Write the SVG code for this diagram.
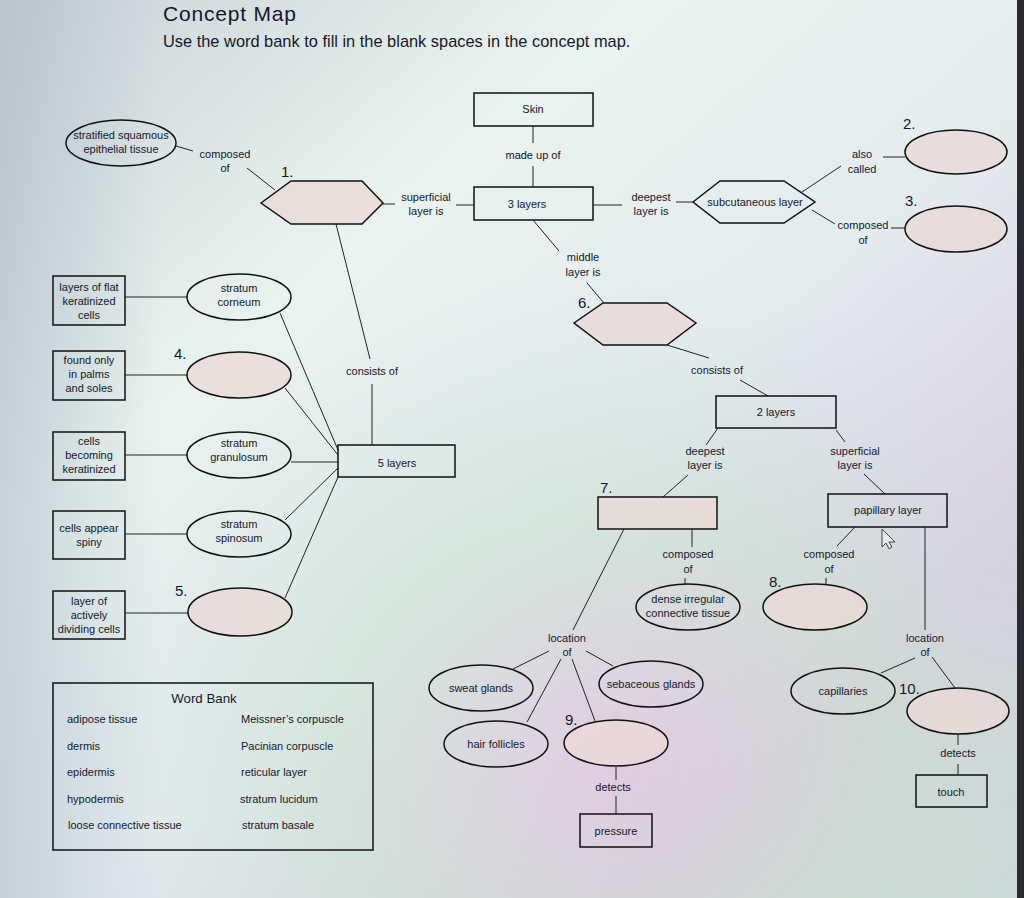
<svg xmlns="http://www.w3.org/2000/svg" width="1024" height="898" viewBox="0 0 1024 898">
<defs>
<linearGradient id="bg" x1="0" y1="0" x2="1" y2="1">
<stop offset="0" stop-color="#c9d2d8"/>
<stop offset="0.3" stop-color="#e9f3ee"/>
<stop offset="0.55" stop-color="#e4ecef"/>
<stop offset="0.8" stop-color="#d9cfe0"/>
<stop offset="1" stop-color="#c9d9d6"/>
</linearGradient>
<radialGradient id="glow" cx="0.6" cy="0.85" r="0.55">
<stop offset="0" stop-color="#e6c6e2" stop-opacity="0.7"/>
<stop offset="0.5" stop-color="#c6e2cc" stop-opacity="0.5"/>
<stop offset="1" stop-color="#d0dde6" stop-opacity="0"/>
</radialGradient>
<linearGradient id="leftshade" x1="0" y1="0" x2="1" y2="0">
<stop offset="0" stop-color="#aebdca" stop-opacity="0.6"/>
<stop offset="1" stop-color="#aebdca" stop-opacity="0"/>
</linearGradient>
</defs>
<style>
text{font-family:"Liberation Sans",Arial,sans-serif;font-size:11px;fill:#16182a;text-anchor:middle}
.num{font-size:15px;text-anchor:start}
.wb{text-anchor:start;font-size:11px}
.node{fill:none;stroke:#111;stroke-width:1.5}
.blank{fill:#ead9d6;fill-opacity:0.8;stroke:#111;stroke-width:1.5}
.conn path{fill:none;stroke:#222;stroke-width:1}
</style>
<rect width="1024" height="898" fill="url(#bg)"/>
<rect width="1024" height="898" fill="url(#glow)"/>
<rect width="160" height="898" fill="url(#leftshade)"/>
<rect x="1017" y="0" width="7" height="898" fill="#2a2a2e"/>

<g id="title">
<text x="163" y="21" style="font-size:21px;letter-spacing:0.8px;text-anchor:start">Concept Map</text>
<text x="163" y="47" style="font-size:16.4px;text-anchor:start">Use the word bank to fill in the blank spaces in the concept map.</text>
</g>

<g class="conn" id="connectors">
<path d="M533,126V143M533,166V187"/>
<path d="M474,205H456M395,204H383"/>
<path d="M593,205H622M676,202H693"/>
<path d="M533,220L559,251M587,283L604,303"/>
<path d="M802,192L841,166M883,157H905"/>
<path d="M812,210L835,224M891,228H905"/>
<path d="M176,146L193,151M247,168L275,190"/>
<path d="M336,224L370,359M372,384V445"/>
<path d="M667,345L709,358M740,380L768,396"/>
<path d="M718,428L706,445M688,475L663,497"/>
<path d="M836,430L845,442M864,474L885,494"/>
<path d="M692,529V547M685,578V584"/>
<path d="M855,527L837,546M826,578V584"/>
<path d="M925,527V630"/>
<path d="M624,529L573,630"/>
<path d="M549,651L513,669M586,651L613,666M561,659L527,722M572,659L595,721"/>
<path d="M915,658L881,673M932,657L955,688"/>
<path d="M616,767V780M616,796V814"/>
<path d="M958,734V745M958,764V775"/>
<path d="M125,297H187M125,375H187M125,455H187M125,534H187M125,613H188"/>
<path d="M280,313L338,450M285,388L338,455M291,462H338M285,520L338,468M285,598L338,477"/>
</g>

<g class="conn" id="link-labels">
<text x="533" y="159">made up of</text>
<text x="426" y="201">superficial</text><text x="426" y="215">layer is</text>
<text x="651" y="201">deepest</text><text x="651" y="215">layer is</text>
<text x="583" y="261">middle</text><text x="583" y="276">layer is</text>
<text x="862" y="158">also</text><text x="862" y="173">called</text>
<text x="863" y="229">composed</text><text x="863" y="244">of</text>
<text x="225" y="158">composed</text><text x="225" y="172">of</text>
<text x="372" y="375">consists of</text>
<text x="717" y="374">consists of</text>
<text x="705" y="455">deepest</text><text x="705" y="469">layer is</text>
<text x="855" y="455">superficial</text><text x="855" y="469">layer is</text>
<text x="688" y="558">composed</text><text x="688" y="573">of</text>
<text x="829" y="558">composed</text><text x="829" y="573">of</text>
<text x="567" y="642">location</text><text x="567" y="656">of</text>
<text x="925" y="642">location</text><text x="925" y="656">of</text>
<text x="613" y="791">detects</text>
<text x="958" y="757">detects</text>
</g>

<g id="skin"><rect class="node" x="474" y="93" width="119" height="33"/><text x="533" y="113">Skin</text></g>
<g id="three-layers"><rect class="node" x="474" y="187" width="119" height="33"/><text x="527" y="208">3 layers</text></g>
<g id="blank1"><polygon class="blank" points="261,203 291,181 362,181 383,203 362,224 291,224"/><text class="num" x="281" y="177">1.</text></g>
<g id="subcutaneous"><polygon class="node" points="693,202 720,181 784,181 815,202 784,223 720,223"/><text x="755" y="206">subcutaneous layer</text></g>
<g id="blank2"><ellipse class="blank" cx="956" cy="152" rx="51" ry="22"/><text class="num" x="903" y="129">2.</text></g>
<g id="blank3"><ellipse class="blank" cx="956" cy="229" rx="51" ry="23"/><text class="num" x="905" y="206">3.</text></g>
<g id="stratified"><ellipse class="node" cx="121" cy="143" rx="55" ry="23"/><text x="121" y="139">stratified squamous</text><text x="121" y="153">epithelial tissue</text></g>

<g id="box-flat"><rect class="node" x="53" y="276" width="72" height="49"/><text x="89" y="291">layers of flat</text><text x="89" y="305">keratinized</text><text x="89" y="319">cells</text></g>
<g id="box-palms"><rect class="node" x="53" y="351" width="72" height="49"/><text x="89" y="364">found only</text><text x="89" y="378">in palms</text><text x="89" y="392">and soles</text></g>
<g id="box-keratinizing"><rect class="node" x="53" y="432" width="72" height="48"/><text x="89" y="445">cells</text><text x="89" y="459">becoming</text><text x="89" y="473">keratinized</text></g>
<g id="box-spiny"><rect class="node" x="53" y="511" width="72" height="48"/><text x="89" y="532">cells appear</text><text x="89" y="546">spiny</text></g>
<g id="box-dividing"><rect class="node" x="53" y="591" width="72" height="48"/><text x="89" y="605">layer of</text><text x="89" y="619">actively</text><text x="89" y="633">dividing cells</text></g>

<g id="corneum"><ellipse class="node" cx="239" cy="297" rx="52" ry="23"/><text x="239" y="292">stratum</text><text x="239" y="306">corneum</text></g>
<g id="blank4"><ellipse class="blank" cx="239" cy="375" rx="52" ry="23"/><text class="num" x="174" y="359">4.</text></g>
<g id="granulosum"><ellipse class="node" cx="239" cy="455" rx="52" ry="23"/><text x="239" y="447">stratum</text><text x="239" y="461">granulosum</text></g>
<g id="spinosum"><ellipse class="node" cx="239" cy="534" rx="52" ry="23"/><text x="239" y="528">stratum</text><text x="239" y="542">spinosum</text></g>
<g id="blank5"><ellipse class="blank" cx="240" cy="612" rx="52" ry="24"/><text class="num" x="175" y="596">5.</text></g>
<g id="five-layers"><rect class="node" x="338" y="445" width="117" height="32"/><text x="397" y="467">5 layers</text></g>

<g id="blank6"><polygon class="blank" points="574,323 603,303 667,303 696,323 667,345 603,345"/><text class="num" x="578" y="308">6.</text></g>
<g id="two-layers"><rect class="node" x="716" y="396" width="120" height="32"/><text x="776" y="416">2 layers</text></g>
<g id="blank7"><rect class="blank" x="598" y="497" width="119" height="32"/><text class="num" x="600" y="493">7.</text></g>
<g id="papillary"><rect class="node" x="828" y="494" width="119" height="33"/><text x="888" y="514">papillary layer</text></g>
<g id="dense"><ellipse class="node" cx="688" cy="607" rx="52" ry="23"/><text x="688" y="603">dense irregular</text><text x="688" y="617">connective tissue</text></g>
<g id="blank8"><ellipse class="blank" cx="815" cy="607" rx="52" ry="23"/><text class="num" x="769" y="587">8.</text></g>

<g id="sweat"><ellipse class="node" cx="481" cy="688" rx="52" ry="23"/><text x="481" y="692">sweat glands</text></g>
<g id="sebaceous"><ellipse class="node" cx="651" cy="684" rx="52" ry="23"/><text x="651" y="688">sebaceous glands</text></g>
<g id="hair"><ellipse class="node" cx="496" cy="744" rx="52" ry="23"/><text x="496" y="748">hair follicles</text></g>
<g id="blank9"><ellipse class="blank" cx="616" cy="743" rx="52" ry="23"/><text class="num" x="565" y="725">9.</text></g>
<g id="pressure"><rect class="node" x="580" y="814" width="72" height="33"/><text x="616" y="835">pressure</text></g>
<g id="capillaries"><ellipse class="node" cx="843" cy="691" rx="52" ry="23"/><text x="843" y="695">capillaries</text></g>
<g id="blank10"><ellipse class="blank" cx="958" cy="711" rx="51" ry="23"/><text class="num" x="899" y="694">10.</text></g>
<g id="touch"><rect class="node" x="916" y="775" width="71" height="32"/><text x="951" y="796">touch</text></g>

<g id="word-bank">
<rect class="node" x="53" y="683" width="320" height="167"/>
<text x="204" y="703" style="font-size:13.3px">Word Bank</text>
<text class="wb" x="67" y="723">adipose tissue</text>
<text class="wb" x="67" y="750">dermis</text>
<text class="wb" x="67" y="776">epidermis</text>
<text class="wb" x="67" y="803">hypodermis</text>
<text class="wb" x="68" y="829">loose connective tissue</text>
<text class="wb" x="241" y="723">Meissner’s corpuscle</text>
<text class="wb" x="241" y="750">Pacinian corpuscle</text>
<text class="wb" x="241" y="776">reticular layer</text>
<text class="wb" x="240" y="803">stratum lucidum</text>
<text class="wb" x="242" y="829">stratum basale</text>
</g>

<path d="M882,529L882,547L886,543L889,549L892,547L889,542L895,542Z" fill="#f2f2f2" fill-opacity="0.6" stroke="#222" stroke-width="0.8"/>
</svg>
